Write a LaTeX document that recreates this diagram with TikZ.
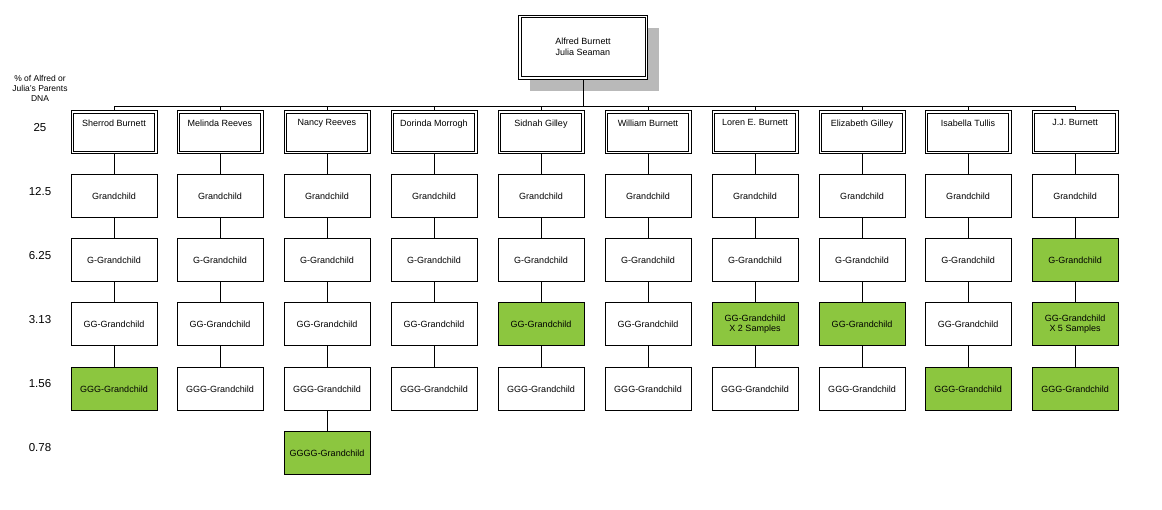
\documentclass[tikz,border=0pt]{standalone}
\usepackage{fontspec}
\setmainfont{Liberation Sans}
\definecolor{lg}{HTML}{8CC63F}
\begin{document}
\begin{tikzpicture}[x=1pt,y=1pt,
  box/.style={draw,line width=0.7pt,minimum width=86pt,minimum height=43pt,font=\fontsize{9}{10.5}\selectfont,align=center,inner sep=1pt},
  kid/.style={box},
  grn/.style={box,fill=lg},
  lbl/.style={font=\fontsize{11.5}{12}\selectfont},
  ln/.style={line width=0.7pt},
  inner/.style={line width=0.7pt}]
\useasboundingbox (0,0) rectangle (1162,-509);
\fill[gray!55] (530,-28) rectangle (659,-91);
\node[draw,line width=0.7pt,fill=white,minimum width=129pt,minimum height=64pt,font=\fontsize{9}{10.5}\selectfont,align=center] (top) at (583,-47) {Alfred Burnett\\Julia Seaman};
\draw[inner] ([shift={(3,3)}]top.south west) rectangle ([shift={(-3,-3)}]top.north east);
\node[align=center,font=\fontsize{8.5}{10}\selectfont] (hdr) at (40,-88) {\% of Alfred or\\Julia's Parents\\DNA};
\foreach \t/\y [count=\i] in {25/128,12.5/192,6.25/256,3.13/320,1.56/384,0.78/448}
  \node[lbl] (v\i) at (40,-\y) {\t};
\coordinate (busL) at (114,-106);
\coordinate (busR) at (1075,-106);
\coordinate (busM) at (583,-106);
\draw[ln] (top.south) -- (busM);
\draw[ln] (busL) -- (busR);
\def\cols{{114,220,327,434,541,648,755,862,968,1075}}
\foreach \n [count=\i from 0] in {Sherrod Burnett,Melinda Reeves,Nancy Reeves,Dorinda Morrogh,Sidnah Gilley,William Burnett,Loren E. Burnett,Elizabeth Gilley,Isabella Tullis,J.J. Burnett}{
  \pgfmathsetmacro\cx{\cols[\i]}
  \node[kid] (k\i) at (\cx,-132) {\n\\[8pt]\mbox{}};
  \draw[inner] ([shift={(3,3)}]k\i.south west) rectangle ([shift={(-3,-3)}]k\i.north east);
  \coordinate (b\i) at (\cx,-106);
  \draw[ln] (b\i) -- (k\i.north);
}
\newcommand\gen[5]{%
  \pgfmathsetmacro\cx{\cols[#1]}
  \node[#5] (g#1r#2) at (\cx,-#3) {#4};}
\foreach \i in {0,...,9}{\gen{\i}{1}{196}{Grandchild}{box}}
\foreach \i in {0,...,8}{\gen{\i}{2}{260}{G-Grandchild}{box}}
\gen{9}{2}{260}{G-Grandchild}{grn}
\foreach \i in {0,1,2,3,5,8}{\gen{\i}{3}{324}{GG-Grandchild}{box}}
\gen{4}{3}{324}{GG-Grandchild}{grn}
\gen{7}{3}{324}{GG-Grandchild}{grn}
\gen{6}{3}{324}{GG-Grandchild\\X 2 Samples}{grn}
\gen{9}{3}{324}{GG-Grandchild\\X 5 Samples}{grn}
\foreach \i in {1,2,3,4,5,6,7}{\gen{\i}{4}{389}{GGG-Grandchild}{box}}
\foreach \i in {0,8,9}{\gen{\i}{4}{389}{GGG-Grandchild}{grn}}
\gen{2}{5}{453}{GGGG-Grandchild}{grn}
\foreach \i in {0,...,9}{
  \draw[ln] (k\i.south) -- (g\i r1.north);
  \draw[ln] (g\i r1.south) -- (g\i r2.north);
  \draw[ln] (g\i r2.south) -- (g\i r3.north);
  \draw[ln] (g\i r3.south) -- (g\i r4.north);
}
\draw[ln] (g2r4.south) -- (g2r5.north);
\end{tikzpicture}
\end{document}
